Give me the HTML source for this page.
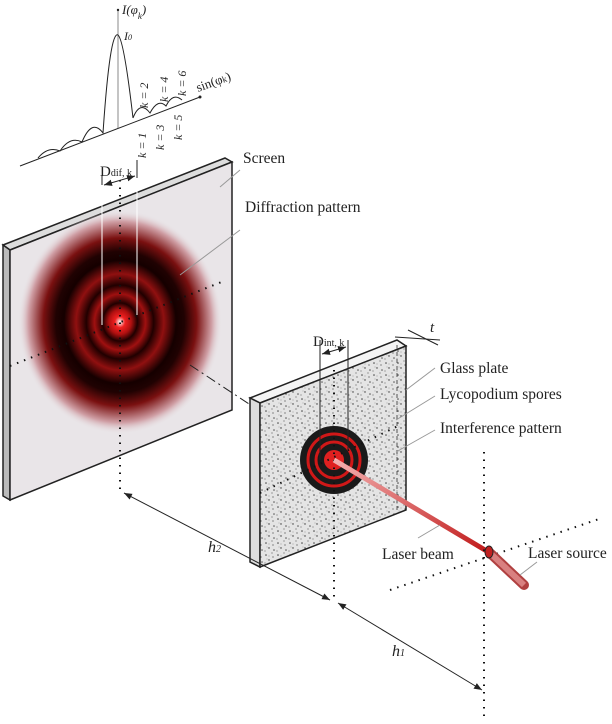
<!DOCTYPE html>
<html><head><meta charset="utf-8"><style>
body{margin:0;background:#fff}
svg{display:block}
text{font-family:"Liberation Serif",serif;fill:#222}
</style></head><body>
<svg width="612" height="724" viewBox="0 0 612 724" xmlns="http://www.w3.org/2000/svg">
<defs>
<radialGradient id="dif" cx="0.5" cy="0.5" r="0.5">
<stop offset="0" stop-color="#fff"/>
<stop offset="0.05" stop-color="#f02020"/>
<stop offset="0.11" stop-color="#b01010"/>
<stop offset="0.17" stop-color="#200000"/>
<stop offset="0.25" stop-color="#a01010"/>
<stop offset="0.33" stop-color="#200000"/>
<stop offset="0.43" stop-color="#901010"/>
<stop offset="0.55" stop-color="#150000"/>
<stop offset="0.63" stop-color="#200202"/>
<stop offset="0.75" stop-color="#7a1010"/>
<stop offset="0.9" stop-color="#d0a0a6"/>
<stop offset="1" stop-color="#e9e5e8" stop-opacity="0"/>
</radialGradient>
<linearGradient id="beam" x1="0" y1="0" x2="1" y2="1">
<stop offset="0" stop-color="#f3b0b0"/><stop offset="1" stop-color="#c01818"/>
</linearGradient>
<pattern id="spk" width="12" height="12" patternUnits="userSpaceOnUse">
<rect width="12" height="12" fill="#e4e4e4"/>
<circle cx="2" cy="3" r="0.8" fill="#444"/><circle cx="8" cy="1" r="0.6" fill="#666"/>
<circle cx="5" cy="8" r="0.7" fill="#333"/><circle cx="10" cy="10" r="0.8" fill="#555"/>
<circle cx="1" cy="11" r="0.6" fill="#777"/><circle cx="9" cy="5" r="0.6" fill="#444"/>
<circle cx="5" cy="4" r="0.5" fill="#888"/><circle cx="3" cy="7" r="0.5" fill="#999"/>
</pattern>
<marker id="ar" viewBox="0 0 10 10" refX="10" refY="5" markerWidth="8" markerHeight="8" orient="auto-start-reverse"><path d="M0,1 L10,5 L0,9z" fill="#222"/></marker>
</defs>

<!-- graph -->
<line x1="20" y1="166" x2="200" y2="97" stroke="#222" stroke-width="1"/>
<circle cx="200" cy="97" r="1.5" fill="#222"/>
<line x1="118" y1="128" x2="118" y2="10" stroke="#888" stroke-width="1"/>
<circle cx="118" cy="10" r="1.2" fill="#222"/>
<path d="M38,158 Q48,146 60,151 Q70,136 82,142 Q92,118 103,133 Q110,30 118,35 Q124,40 133,118 Q140,100 150,113 Q158,98 166,106 Q173,92 182,100" fill="none" stroke="#222" stroke-width="1"/>
<text x="122" y="14" font-size="13" font-style="italic">I(φ<tspan font-size="9" baseline-shift="sub">k</tspan>)</text>
<text x="124" y="40" font-size="12" font-style="italic">I<tspan font-size="8">0</tspan></text>
<text x="198" y="92" font-size="13" transform="rotate(-20 198 92)">sin(φ<tspan font-size="9">k</tspan>)</text>
<g font-size="12" font-style="italic">
<text transform="translate(148,108) rotate(-90)">k = 2</text>
<text transform="translate(168,102) rotate(-90)">k = 4</text>
<text transform="translate(186,96) rotate(-90)">k = 6</text>
<text transform="translate(146,158) rotate(-90)">k = 1</text>
<text transform="translate(164,150) rotate(-90)">k = 3</text>
<text transform="translate(182,140) rotate(-90)">k = 5</text>
</g>

<!-- screen -->
<polygon points="3,245 225,158 232,162 10,250" fill="#ddd" stroke="#222" stroke-width="1.5"/>
<polygon points="3,245 10,250 10,500 3,496" fill="#bbb" stroke="#222" stroke-width="1.5"/>
<polygon points="10,250 232,162 232,410 10,500" fill="#e9e5e8" stroke="#222" stroke-width="1.5"/>
<ellipse cx="120" cy="322" rx="102" ry="112" fill="url(#dif)"/>
<line x1="10" y1="366" x2="224" y2="281" stroke="#111" stroke-width="2" stroke-dasharray="1.5 6"/>
<line x1="120" y1="180" x2="120" y2="492" stroke="#111" stroke-width="2" stroke-dasharray="1.5 6"/>
<line x1="102" y1="175" x2="102" y2="325" stroke="#fff" stroke-width="1"/>
<line x1="137" y1="170" x2="137" y2="315" stroke="#fff" stroke-width="1"/>
<line x1="102" y1="175" x2="102" y2="185" stroke="#222"/>
<line x1="137" y1="160" x2="137" y2="178" stroke="#222"/>
<line x1="104" y1="185" x2="135" y2="176" stroke="#222" marker-start="url(#ar)" marker-end="url(#ar)"/>
<text x="100" y="176" font-size="15">D<tspan font-size="10">dif, k</tspan></text>

<!-- dash-dot axis -->
<line x1="190" y1="365" x2="334" y2="460" stroke="#222" stroke-width="1" stroke-dasharray="10 4 2 4"/>

<!-- glass plate -->
<polygon points="250,398 397,340 406,346 260,403" fill="#f4f4f4" stroke="#222" stroke-width="1.5"/>
<polygon points="250,398 260,403 260,567 250,562" fill="#ddd" stroke="#222" stroke-width="1.5"/>
<polygon points="260,403 406,346 406,510 260,567" fill="url(#spk)" stroke="#222" stroke-width="1.5"/>
<line x1="397" y1="345" x2="397" y2="512" stroke="#555" stroke-dasharray="4 3"/>
<circle cx="334" cy="460" r="34" fill="#1a1a1a"/>
<circle cx="334" cy="460" r="26" fill="none" stroke="#d01818" stroke-width="3"/>
<circle cx="334" cy="460" r="18" fill="none" stroke="#d01818" stroke-width="3"/>
<circle cx="334" cy="460" r="10" fill="#e02020"/>
<line x1="260" y1="493" x2="400" y2="425" stroke="#111" stroke-width="2" stroke-dasharray="1.5 6"/>
<line x1="334" y1="370" x2="334" y2="602" stroke="#111" stroke-width="2" stroke-dasharray="1.5 6"/>
<line x1="320" y1="340" x2="320" y2="460" stroke="#222"/>
<line x1="348" y1="340" x2="348" y2="450" stroke="#222"/>
<line x1="322" y1="354" x2="346" y2="347" stroke="#222" marker-start="url(#ar)" marker-end="url(#ar)"/>
<text x="313" y="346" font-size="15">D<tspan font-size="10">int, k</tspan></text>
<line x1="395" y1="337" x2="440" y2="340" stroke="#222"/>
<line x1="408" y1="330" x2="438" y2="345" stroke="#222"/>
<text x="430" y="332" font-size="15" font-style="italic">t</text>

<!-- laser -->
<line x1="334" y1="460" x2="490" y2="553" stroke="url(#beam)" stroke-width="5"/>
<line x1="390" y1="590" x2="602" y2="518" stroke="#111" stroke-width="2" stroke-dasharray="1.5 6"/>
<line x1="484" y1="452" x2="484" y2="720" stroke="#111" stroke-width="2" stroke-dasharray="1.5 6"/>
<line x1="490" y1="553" x2="524" y2="585" stroke="#b04040" stroke-width="10" stroke-linecap="round"/>
<line x1="490" y1="553" x2="524" y2="585" stroke="#d98080" stroke-width="6"/>
<ellipse cx="489" cy="552" rx="4" ry="6" fill="#c02020" stroke="#222"/>

<!-- dimensions -->
<line x1="124" y1="493" x2="330" y2="600" stroke="#222" marker-start="url(#ar)" marker-end="url(#ar)"/>
<line x1="338" y1="603" x2="482" y2="690" stroke="#222" marker-start="url(#ar)" marker-end="url(#ar)"/>
<text x="208" y="552" font-size="16" font-style="italic">h<tspan font-size="10">2</tspan></text>
<text x="392" y="656" font-size="16" font-style="italic">h<tspan font-size="10">1</tspan></text>

<!-- labels -->
<g stroke="#999" stroke-width="1">
<line x1="220" y1="187" x2="240" y2="170"/>
<line x1="180" y1="275" x2="240" y2="230"/>
<line x1="406" y1="390" x2="435" y2="368"/>
<line x1="396" y1="420" x2="435" y2="396"/>
<line x1="396" y1="452" x2="435" y2="430"/>
<line x1="418" y1="538" x2="440" y2="525"/>
<line x1="520" y1="575" x2="537" y2="562"/>
</g>
<g font-size="15.5">
<text x="243" y="163">Screen</text>
<text x="245" y="212">Diffraction pattern</text>
<text x="440" y="373">Glass plate</text>
<text x="440" y="399">Lycopodium spores</text>
<text x="440" y="433">Interference pattern</text>
<text x="382" y="559">Laser beam</text>
<text x="528" y="558">Laser source</text>
</g>
</svg>
</body></html>
